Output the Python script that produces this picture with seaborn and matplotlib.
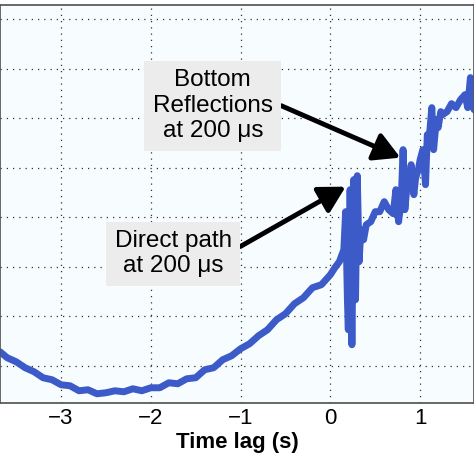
import matplotlib
matplotlib.use("Agg")
import matplotlib.pyplot as plt
import seaborn as sns
import pandas as pd

sns.set_theme(style="white")
plt.rcParams['font.family'] = ['Liberation Sans', 'DejaVu Sans']
plt.rcParams['text.color'] = 'black'
plt.rcParams['xtick.color'] = 'black'
plt.rcParams['axes.labelcolor'] = 'black'

# (y in grid-spacing units)
time_lag = [-3.68, -3.6, -3.5, -3.4, -3.3, -3.2, -3.1, -3.0, -2.9, -2.8, -2.7, -2.6, -2.5, -2.4, -2.3,
            -2.2, -2.1, -2.0, -1.9, -1.8, -1.7, -1.6, -1.5, -1.4, -1.3, -1.2, -1.1, -1.0, -0.9, -0.8,
            -0.7, -0.6, -0.5, -0.4, -0.3, -0.2, -0.1, 0.0, 0.05, 0.1, 0.15, 0.17, 0.19, 0.2, 0.22, 0.24,
            0.26, 0.28, 0.3, 0.32, 0.34, 0.37, 0.4, 0.45, 0.5, 0.55, 0.6, 0.65, 0.7, 0.73, 0.76, 0.79,
            0.81, 0.83, 0.85, 0.88, 0.9, 0.93, 0.95, 0.98, 1.0, 1.03, 1.06, 1.08, 1.1, 1.13, 1.15, 1.18,
            1.2, 1.23, 1.25, 1.3, 1.35, 1.4, 1.45, 1.5, 1.53, 1.56, 1.6]
pixel_y = [352, 358, 362, 368, 372, 378, 380, 385, 386, 391, 390, 394, 393, 391, 392,
           389, 391, 388, 388, 383, 384, 379, 378, 370, 368, 360, 356, 349, 344, 336,
           330, 320, 314, 304, 298, 288, 285, 275, 268, 262, 250, 212, 300, 330, 190, 345,
           180, 300, 176, 262, 230, 240, 225, 222, 212, 212, 202, 210, 214, 190, 222, 200,
           150, 210, 190, 178, 165, 195, 178, 170, 160, 150, 185, 135, 140, 108, 150, 120,
           128, 112, 115, 112, 104, 108, 100, 95, 108, 78, 110]
corr = [(366 - p) / 49.5 for p in pixel_y]
xticks = [-3, -2, -1, 0, 1]

df = pd.DataFrame({"t": time_lag, "c": corr})

fig = plt.figure(figsize=(4.74, 4.74), dpi=100)
ax = fig.add_axes([0.0, 0.15, 1.0, 0.84])
ax.set_facecolor('#f7fdff')
sns.lineplot(data=df, x="t", y="c", ax=ax, color='#3d5bc8', linewidth=5, sort=False)
ax.set_xlim(-3.68, 1.6)
ax.set_ylim(-0.75, 7.29)
ax.set_xticks(xticks)
ax.set_xticklabels(['\u22123', '\u22122', '\u22121', '0', '1'], fontsize=16)
ax.set_yticks(range(0, 8))
ax.set_yticklabels([])
ax.tick_params(direction='in', length=4, color='#333333')
ax.grid(True, linestyle=(0, (1, 4)), color='#333333', linewidth=0.9)
for s in ax.spines.values():
    s.set_color('#555555')
ax.set_xlabel('Time lag (s)', fontsize=16, fontweight='bold', labelpad=2)
ax.set_ylabel('')

box = dict(boxstyle='square,pad=0.35', facecolor='#ececec', edgecolor='none')
ax.annotate('Bottom\nReflections\nat 200 \u03bcs', xy=(0.78, (366-158)/49.5), xytext=(-1.31, (366-106)/49.5),
            fontsize=17.5, ha='center', va='center', bbox=box, linespacing=1.2,
            arrowprops=dict(arrowstyle='-|>,head_width=0.5,head_length=0.9', color='black', lw=3.5,
                            shrinkA=0, shrinkB=0, relpos=(1.0, 0.55)))
ax.annotate('Direct path\nat 200 \u03bcs', xy=(0.17, (366-187)/49.5), xytext=(-1.75, (366-254)/49.5),
            fontsize=17.5, ha='center', va='center', bbox=box, linespacing=1.2,
            arrowprops=dict(arrowstyle='-|>,head_width=0.5,head_length=0.9', color='black', lw=3.5,
                            shrinkA=0, shrinkB=0, relpos=(1.0, 0.55)))
fig.savefig('out.png', dpi=100)
